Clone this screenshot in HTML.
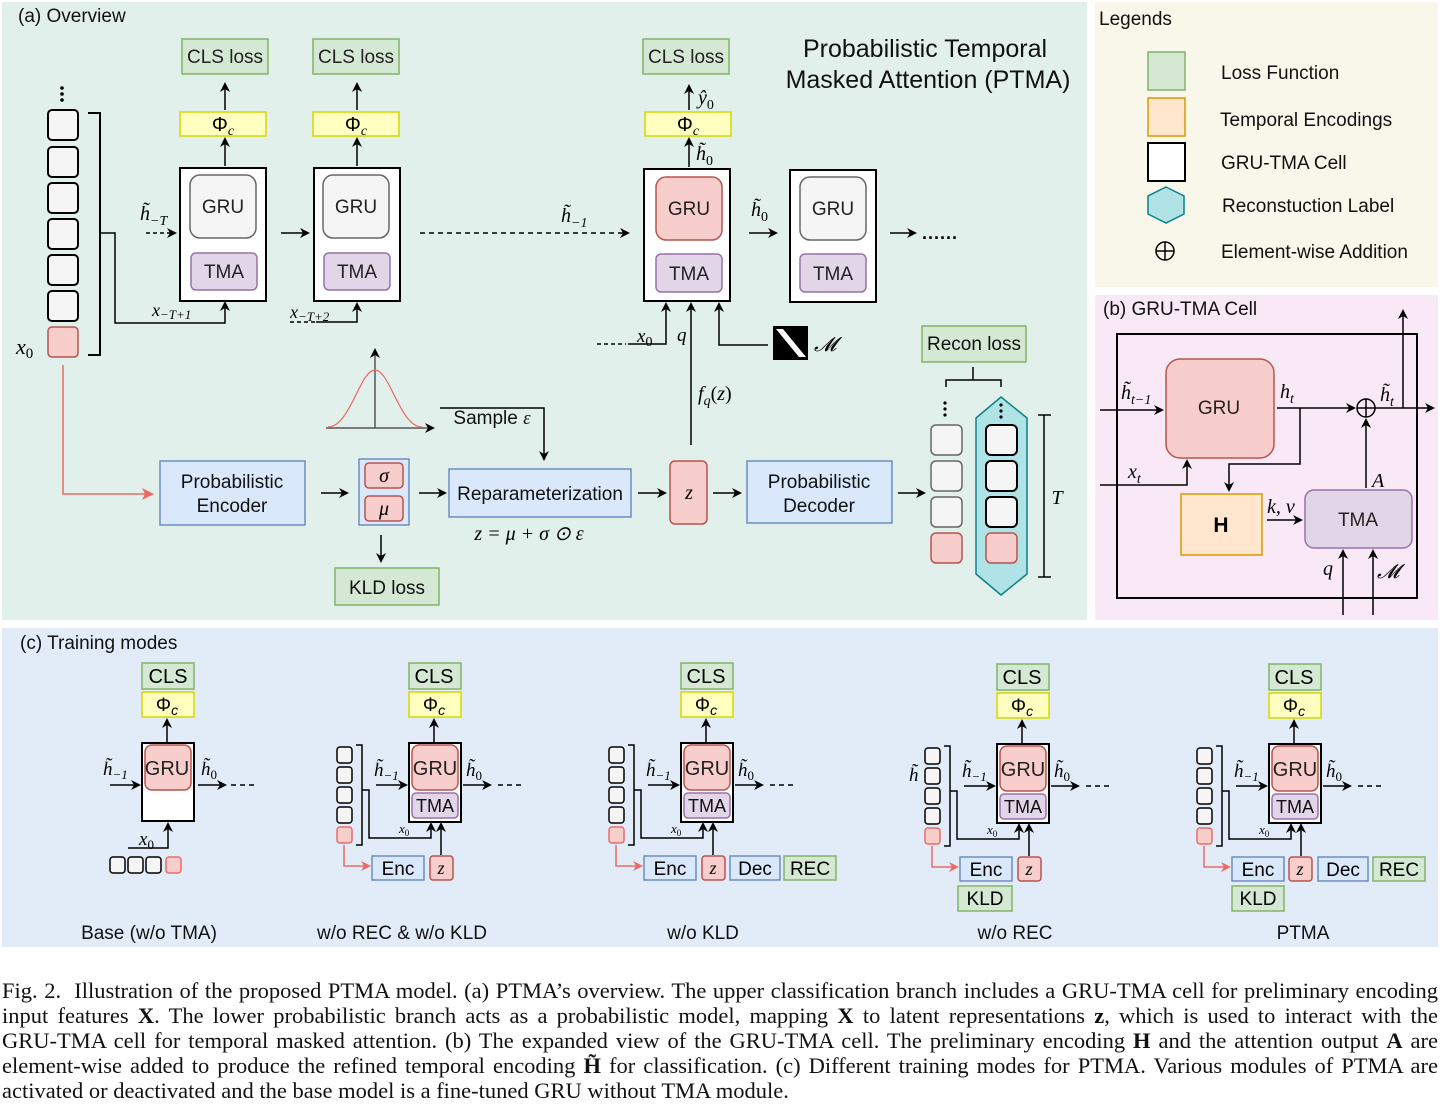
<!DOCTYPE html>
<html><head><meta charset="utf-8"><style>
body{margin:0;width:1440px;height:1106px;background:#fff;overflow:hidden;position:relative}
svg{position:absolute;left:0;top:0}
svg text{font-family:"Liberation Sans",sans-serif}
.m{font-family:"Liberation Serif",serif;font-style:italic}
.cap{position:absolute;left:2px;width:1436px;font-family:"Liberation Serif",serif;font-size:22.5px;line-height:25px;text-align:justify;text-align-last:justify;white-space:nowrap;color:#111}
.cap.l{text-align-last:left}
</style></head><body>
<svg width="1440" height="1106" viewBox="0 0 1440 1106">
<defs>
<marker id="b" markerWidth="10" markerHeight="10" refX="8" refY="5" orient="auto" markerUnits="userSpaceOnUse"><path d="M0,0 L10,5 L0,10 L3,5z" fill="#000"/></marker>
<marker id="p" markerWidth="12" markerHeight="12" refX="10" refY="6" orient="auto" markerUnits="userSpaceOnUse"><path d="M0,0 L12,6 L0,12 L3,6z" fill="#ea6b66"/></marker>
</defs>
<rect x="2" y="2" width="1085" height="618" fill="#e2f0ec"/>
<rect x="1095" y="2" width="343" height="285" fill="#f8f7ea"/>
<rect x="1095" y="295" width="343" height="325" fill="#f9e9f7"/>
<rect x="2" y="628" width="1436" height="319" fill="#e1ecf8"/>

<g font-size="19" fill="#111">
<text x="18" y="22">(a) Overview</text>
<text x="1099" y="25">Legends</text>
<text x="1103" y="315">(b) GRU-TMA Cell</text>
<text x="20" y="649">(c) Training modes</text>
</g>

<g stroke="#000" stroke-width="2" fill="none">
<rect x="48" y="110" width="30" height="30" rx="4" fill="#f5f5f5"/>
<rect x="48" y="147" width="30" height="30" rx="4" fill="#f5f5f5"/>
<rect x="48" y="183" width="30" height="30" rx="4" fill="#f5f5f5"/>
<rect x="48" y="219" width="30" height="30" rx="4" fill="#f5f5f5"/>
<rect x="48" y="255" width="30" height="30" rx="4" fill="#f5f5f5"/>
<rect x="48" y="291" width="30" height="30" rx="4" fill="#f5f5f5"/>
<rect x="48" y="327" width="30" height="30" rx="4" fill="#f8cecc" stroke="#b85450" stroke-width="1.5"/>
<path d="M88,113 H100 V355 H88"/>
</g>
<g fill="#000"><circle cx="62" cy="88" r="1.8"/><circle cx="62" cy="94" r="1.8"/><circle cx="62" cy="100" r="1.8"/></g>
<text x="16" y="354" class="m" font-size="22">x<tspan font-size="15" font-style="normal" dy="4">0</tspan></text>
<path d="M100,233 H115 V323 H225 V303" stroke="#000" stroke-width="1.5" fill="none" marker-end="url(#b)"/>
<path d="M63,365 V494 H152" stroke="#ea6b66" stroke-width="1.5" fill="none" marker-end="url(#p)"/>

<g stroke-width="1.5">
<rect x="182" y="39" width="86" height="35" fill="#d5e8d4" stroke="#82b366"/>
<rect x="180" y="112" width="86" height="24" fill="#ffffc0" stroke="#d6d600"/>
<rect x="180" y="168" width="86" height="133" fill="#fff" stroke="#000" stroke-width="2"/>
<rect x="190" y="175" width="66" height="63" rx="10" fill="#f5f5f5" stroke="#666"/>
<rect x="191" y="253" width="66" height="37" rx="5" fill="#e1d5e7" stroke="#9673a6"/>
<rect x="313" y="39" width="86" height="35" fill="#d5e8d4" stroke="#82b366"/>
<rect x="313" y="112" width="86" height="24" fill="#ffffc0" stroke="#d6d600"/>
<rect x="314" y="168" width="86" height="133" fill="#fff" stroke="#000" stroke-width="2"/>
<rect x="323" y="175" width="66" height="63" rx="10" fill="#f5f5f5" stroke="#666"/>
<rect x="324" y="253" width="66" height="37" rx="5" fill="#e1d5e7" stroke="#9673a6"/>
<rect x="643" y="39" width="86" height="35" fill="#d5e8d4" stroke="#82b366"/>
<rect x="645" y="112" width="86" height="24" fill="#ffffc0" stroke="#d6d600"/>
<rect x="644" y="169" width="86" height="132" fill="#fff" stroke="#000" stroke-width="2"/>
<rect x="656" y="177" width="66" height="63" rx="10" fill="#f8cecc" stroke="#b85450"/>
<rect x="656" y="254" width="66" height="38" rx="5" fill="#e1d5e7" stroke="#9673a6"/>
<rect x="790" y="170" width="86" height="132" fill="#fff" stroke="#000" stroke-width="2"/>
<rect x="800" y="177" width="66" height="63" rx="10" fill="#f5f5f5" stroke="#666"/>
<rect x="800" y="254" width="66" height="38" rx="5" fill="#e1d5e7" stroke="#9673a6"/>
</g>
<g font-size="19" fill="#222" text-anchor="middle">
<text x="225" y="63">CLS loss</text><text x="356" y="63">CLS loss</text><text x="686" y="63">CLS loss</text>
<text x="223" y="213">GRU</text><text x="356" y="213">GRU</text><text x="689" y="215">GRU</text><text x="833" y="215">GRU</text>
<text x="224" y="278">TMA</text><text x="357" y="278">TMA</text><text x="689" y="280">TMA</text><text x="833" y="280">TMA</text>
</g>
<g font-size="20" text-anchor="middle">
<text x="223" y="131" font-family="Liberation Serif">Φ<tspan class="m" font-size="14" dy="4">c</tspan></text>
<text x="356" y="131" font-family="Liberation Serif">Φ<tspan class="m" font-size="14" dy="4">c</tspan></text>
<text x="688" y="131" font-family="Liberation Serif">Φ<tspan class="m" font-size="14" dy="4">c</tspan></text>
</g>
<g stroke="#000" stroke-width="1.5" fill="none">
<line x1="225" y1="166" x2="225" y2="139" marker-end="url(#b)"/><line x1="225" y1="110" x2="225" y2="84" marker-end="url(#b)"/>
<line x1="357" y1="166" x2="357" y2="139" marker-end="url(#b)"/><line x1="357" y1="110" x2="357" y2="84" marker-end="url(#b)"/>
<line x1="689" y1="167" x2="689" y2="139" marker-end="url(#b)"/><line x1="689" y1="110" x2="689" y2="86" marker-end="url(#b)"/>
<line x1="146" y1="233" x2="175" y2="233" stroke-dasharray="4,3" marker-end="url(#b)"/>
<line x1="281" y1="233" x2="308" y2="233" marker-end="url(#b)"/>
<line x1="420" y1="233" x2="628" y2="233" stroke-dasharray="5,4" marker-end="url(#b)"/>
<line x1="749" y1="233" x2="776" y2="233" marker-end="url(#b)"/>
<line x1="890" y1="233" x2="915" y2="233" marker-end="url(#b)"/>
<line x1="290" y1="322" x2="316" y2="322" stroke-dasharray="4,3"/>
<path d="M316,322 H357 V304" marker-end="url(#b)"/>
<line x1="597" y1="344" x2="626" y2="344" stroke-dasharray="4,3"/>
<path d="M628,344 H666 V304" marker-end="url(#b)"/>
<line x1="691" y1="445" x2="691" y2="304" marker-end="url(#b)"/>
<path d="M768,345 H719 V304" marker-end="url(#b)"/>
</g>
<text x="922" y="239" font-size="18" font-weight="bold" letter-spacing="1">......</text>
<rect x="773" y="326" width="35" height="34" fill="#000"/>
<path d="M776,329 L783,329 L806,357 L799,357 Z" fill="#fff"/>
<g font-size="20">
<text x="814" y="351" class="m">𝓜</text>
<text x="140" y="220" class="m">h̃<tspan font-size="14" dy="5">−T</tspan></text>
<text x="152" y="316" class="m" font-size="18">x<tspan font-size="13" dy="3">−T+1</tspan></text>
<text x="290" y="318" class="m" font-size="18">x<tspan font-size="13" dy="3">−T+2</tspan></text>
<text x="561" y="222" class="m">h̃<tspan font-size="14" dy="5">−1</tspan></text>
<text x="751" y="216" class="m">h̃<tspan font-size="14" font-style="normal" dy="5">0</tspan></text>
<text x="696" y="160" class="m">h̃<tspan font-size="14" font-style="normal" dy="5">0</tspan></text>
<text x="698" y="104" class="m">ŷ<tspan font-size="14" font-style="normal" dy="5">0</tspan></text>
<text x="637" y="342" class="m" font-size="19">x<tspan font-size="14" font-style="normal" dy="4">0</tspan></text>
<text x="677" y="341" class="m" font-size="19">q</text>
<text x="698" y="400" class="m" font-size="20">f<tspan font-size="14" dy="5">q</tspan><tspan dy="-5" font-style="normal">(</tspan>z<tspan font-style="normal">)</tspan></text>
</g>
<g font-size="25" fill="#111" text-anchor="middle">
<text x="925" y="57">Probabilistic Temporal</text>
<text x="928" y="88">Masked Attention (PTMA)</text>
</g>

<g stroke-width="1.5">
<rect x="160" y="461" width="145" height="64" fill="#dae8fc" stroke="#6c8ebf"/>
<rect x="359" y="459" width="50" height="66" fill="#dae8fc" stroke="#6c8ebf"/>
<rect x="365" y="463" width="38" height="25" rx="4" fill="#f8cecc" stroke="#b85450"/>
<rect x="365" y="496" width="38" height="25" rx="4" fill="#f8cecc" stroke="#b85450"/>
<rect x="335" y="568" width="104" height="37" fill="#d5e8d4" stroke="#82b366"/>
<rect x="449" y="469" width="182" height="48" fill="#dae8fc" stroke="#6c8ebf"/>
<rect x="670" y="461" width="37" height="63" rx="5" fill="#f8cecc" stroke="#b85450"/>
<rect x="747" y="461" width="145" height="62" fill="#dae8fc" stroke="#6c8ebf"/>
<rect x="922" y="326" width="104" height="36" fill="#d5e8d4" stroke="#82b366"/>
<rect x="931" y="425" width="31" height="30" rx="5" fill="#f5f5f5" stroke="#666"/>
<rect x="931" y="461" width="31" height="30" rx="5" fill="#f5f5f5" stroke="#666"/>
<rect x="931" y="497" width="31" height="30" rx="5" fill="#f5f5f5" stroke="#666"/>
<rect x="931" y="533" width="31" height="30" rx="5" fill="#f8cecc" stroke="#b85450"/>
<path d="M1001,397 L1027,418 L1027,574 L1001,595 L976,574 L976,418 Z" fill="#b0e3e6" stroke="#0e8088"/>
<rect x="986" y="425" width="31" height="30" rx="5" fill="#f5f5f5" stroke="#000" stroke-width="2"/>
<rect x="986" y="461" width="31" height="30" rx="5" fill="#f5f5f5" stroke="#000" stroke-width="2"/>
<rect x="986" y="497" width="31" height="30" rx="5" fill="#f5f5f5" stroke="#000" stroke-width="2"/>
<rect x="986" y="533" width="31" height="30" rx="5" fill="#f8cecc" stroke="#b85450"/>
</g>
<g fill="#000"><circle cx="945" cy="403" r="1.6"/><circle cx="945" cy="409" r="1.6"/><circle cx="945" cy="415" r="1.6"/>
<circle cx="1001" cy="405" r="1.6"/><circle cx="1001" cy="411" r="1.6"/><circle cx="1001" cy="417" r="1.6"/></g>
<g stroke="#000" stroke-width="1.5" fill="none">
<line x1="321" y1="493" x2="347" y2="493" marker-end="url(#b)"/>
<line x1="381" y1="535" x2="381" y2="561" marker-end="url(#b)"/>
<line x1="419" y1="493" x2="445" y2="493" marker-end="url(#b)"/>
<line x1="638" y1="493" x2="665" y2="493" marker-end="url(#b)"/>
<line x1="713" y1="493" x2="740" y2="493" marker-end="url(#b)"/>
<line x1="898" y1="493" x2="924" y2="493" marker-end="url(#b)"/>
<path d="M440,408 H544 V459" marker-end="url(#b)"/>
<path d="M946,387 V380 H1001 V387 M973,380 V367"/>
<path d="M1044,415 V577 M1038,415 H1051 M1038,577 H1051"/>
<line x1="326" y1="428" x2="433" y2="428" stroke="#555" marker-end="url(#b)"/>
<line x1="375" y1="428" x2="375" y2="350" stroke="#555" marker-end="url(#b)"/>
</g>
<path d="M328,427 C350,427 360,370 375,370 C390,370 400,427 422,427" stroke="#ea6b66" stroke-width="1.2" fill="none"/>
<g font-size="19" fill="#111" text-anchor="middle">
<text x="232" y="488">Probabilistic</text><text x="232" y="512">Encoder</text>
<text x="387" y="594">KLD loss</text>
<text x="540" y="500">Reparameterization</text>
<text x="819" y="488">Probabilistic</text><text x="819" y="512">Decoder</text>
<text x="974" y="350">Recon loss</text>
<text x="492" y="424">Sample <tspan class="m">ε</tspan></text>
</g>
<g font-size="20" text-anchor="middle">
<text x="384" y="482" class="m">σ</text><text x="384" y="515" class="m">μ</text>
<text x="689" y="499" class="m">z</text>
<text x="529" y="540" class="m">z = μ + σ ⊙ ε</text>
<text x="1057" y="504" class="m">T</text>
</g>

<g stroke-width="1.5">
<rect x="1148" y="52" width="37" height="38" fill="#d5e8d4" stroke="#82b366"/>
<rect x="1148" y="98" width="37" height="38" fill="#ffe6cc" stroke="#d79b00"/>
<rect x="1148" y="143" width="37" height="38" fill="#fff" stroke="#000" stroke-width="2"/>
<path d="M1166,187 L1184,196 L1184,214 L1166,223 L1148,214 L1148,196 Z" fill="#b0e3e6" stroke="#0e8088"/>
<circle cx="1165" cy="251" r="9" fill="none" stroke="#000"/>
<path d="M1156,251 H1174 M1165,242 V260" stroke="#000"/>
</g>
<g font-size="19" fill="#111">
<text x="1221" y="79">Loss Function</text><text x="1220" y="126">Temporal Encodings</text>
<text x="1221" y="169">GRU-TMA Cell</text><text x="1222" y="212">Reconstuction Label</text>
<text x="1221" y="258">Element-wise Addition</text>
</g>

<rect x="1117" y="334" width="300" height="264" stroke="#000" stroke-width="2" fill="none"/>
<g stroke-width="1.5">
<rect x="1166" y="359" width="108" height="99" rx="14" fill="#f8cecc" stroke="#b85450"/>
<rect x="1181" y="494" width="81" height="61" fill="#ffe6cc" stroke="#d79b00"/>
<rect x="1305" y="490" width="107" height="58" rx="9" fill="#e1d5e7" stroke="#9673a6"/>
<circle cx="1366" cy="408" r="9" fill="none" stroke="#000"/>
<path d="M1357,408 H1375 M1366,399 V417" stroke="#000"/>
</g>
<g stroke="#000" stroke-width="1.5" fill="none">
<line x1="1100" y1="410" x2="1162" y2="410" marker-end="url(#b)"/>
<path d="M1100,485 H1187 V461" marker-end="url(#b)"/>
<line x1="1277" y1="408" x2="1354" y2="408" marker-end="url(#b)"/>
<path d="M1300,408 V464 H1229 V490" marker-end="url(#b)"/>
<line x1="1267" y1="520" x2="1301" y2="520" marker-end="url(#b)"/>
<line x1="1366" y1="488" x2="1366" y2="420" marker-end="url(#b)"/>
<line x1="1375" y1="408" x2="1433" y2="408" marker-end="url(#b)"/>
<line x1="1403" y1="408" x2="1403" y2="311" marker-end="url(#b)"/>
<line x1="1343" y1="615" x2="1343" y2="551" marker-end="url(#b)"/>
<line x1="1373" y1="615" x2="1373" y2="551" marker-end="url(#b)"/>
</g>
<text x="1219" y="414" font-size="19" text-anchor="middle" fill="#222">GRU</text>
<text x="1358" y="526" font-size="19" text-anchor="middle" fill="#222">TMA</text>
<text x="1221" y="532" font-family="Liberation Serif" font-weight="bold" font-size="21" text-anchor="middle">H</text>
<g font-size="20">
<text x="1121" y="399" class="m">h̃<tspan font-size="14" dy="5">t−1</tspan></text>
<text x="1128" y="478" class="m">x<tspan font-size="14" dy="5">t</tspan></text>
<text x="1280" y="398" class="m">h<tspan font-size="14" dy="5">t</tspan></text>
<text x="1380" y="401" class="m">h̃<tspan font-size="14" dy="5">t</tspan></text>
<text x="1267" y="513" class="m">k, v</text>
<text x="1372" y="487" class="m">A</text>
<text x="1323" y="575" class="m">q</text>
<text x="1377" y="578" class="m">𝓜</text>
</g>
</svg>

<svg width="1440" height="1106" viewBox="0 0 1440 1106">
<defs>
<marker id="c" markerWidth="10" markerHeight="10" refX="8" refY="5" orient="auto" markerUnits="userSpaceOnUse"><path d="M0,0 L10,5 L0,10 L3,5z" fill="#000"/></marker>
<marker id="d" markerWidth="10" markerHeight="10" refX="8" refY="5" orient="auto" markerUnits="userSpaceOnUse"><path d="M0,0 L10,5 L0,10 L3,5z" fill="#ea6b66"/></marker>
</defs>
<g>
<rect x="142" y="663" width="52" height="26" fill="#d5e8d4" stroke="#82b366" stroke-width="1.5"/>
<rect x="142" y="692" width="52" height="25" fill="#ffffc0" stroke="#d6d600" stroke-width="1.5"/>
<rect x="142" y="743" width="52" height="78" fill="#fff" stroke="#000" stroke-width="2"/>
<rect x="145" y="745" width="46" height="45" rx="7" fill="#f8cecc" stroke="#b85450" stroke-width="1.5"/>
<text x="168" y="683" font-size="20" text-anchor="middle">CLS</text>
<text x="167" y="711" font-family="Liberation Serif" font-size="19" text-anchor="middle">Φ<tspan font-style="italic" font-size="14" dy="4">c</tspan></text>
<text x="167" y="775" font-size="20" text-anchor="middle" fill="#222">GRU</text>
<g stroke="#000" stroke-width="1.5" fill="none">
<line x1="167" y1="742" x2="167" y2="720" marker-end="url(#c)"/>
<line x1="110" y1="785" x2="139" y2="785" marker-end="url(#c)"/>
<line x1="198" y1="785" x2="225" y2="785" marker-end="url(#c)"/>
<line x1="231" y1="785" x2="254" y2="785" stroke-dasharray="5,4"/>
<path d="M128,848 H168 V824" marker-end="url(#c)"/>
<rect x="110" y="857" width="15" height="16" rx="3" fill="#f5f5f5"/>
<rect x="128" y="857" width="15" height="16" rx="3" fill="#f5f5f5"/>
<rect x="146" y="857" width="15" height="16" rx="3" fill="#f5f5f5"/>
<rect x="166" y="857" width="15" height="16" rx="3" fill="#f8cecc" stroke="#ea6b66"/>
</g>
<g font-size="19">
<text x="103" y="775" class="m">h̃<tspan font-size="13" dy="4">−1</tspan></text>
<text x="201" y="775" class="m">h̃<tspan font-size="13" font-style="normal" dy="4">0</tspan></text>
<text x="139" y="845" class="m">x<tspan font-size="13" font-style="normal" dy="4">0</tspan></text>
</g>
</g>

<g>
<rect x="409" y="663" width="52" height="26" fill="#d5e8d4" stroke="#82b366" stroke-width="1.5"/>
<rect x="409" y="692" width="52" height="25" fill="#ffffc0" stroke="#d6d600" stroke-width="1.5"/>
<rect x="409" y="743" width="52" height="79" fill="#fff" stroke="#000" stroke-width="2"/>
<rect x="412" y="745" width="46" height="45" rx="7" fill="#f8cecc" stroke="#b85450" stroke-width="1.5"/>
<rect x="412" y="793" width="46" height="25" rx="4" fill="#e1d5e7" stroke="#9673a6" stroke-width="1.5"/>
<rect x="372" y="856" width="52" height="24" fill="#dae8fc" stroke="#6c8ebf" stroke-width="1.5"/>
<rect x="430" y="856" width="23" height="24" rx="3" fill="#f8cecc" stroke="#b85450" stroke-width="1.5"/>
<g stroke="#000" stroke-width="1.5" fill="none">
<rect x="337" y="747" width="15" height="16" rx="3" fill="#f5f5f5"/>
<rect x="337" y="767" width="15" height="16" rx="3" fill="#f5f5f5"/>
<rect x="337" y="787" width="15" height="16" rx="3" fill="#f5f5f5"/>
<rect x="337" y="807" width="15" height="16" rx="3" fill="#f5f5f5"/>
<rect x="337" y="827" width="15" height="16" rx="3" fill="#f8cecc" stroke="#ea6b66"/>
<path d="M356,745 H362 V845 H356"/>
<path d="M362,790 H369 V838 H431 V824" marker-end="url(#c)"/>
<line x1="441" y1="855" x2="441" y2="824" marker-end="url(#c)"/>
<line x1="434" y1="742" x2="434" y2="720" marker-end="url(#c)"/>
<line x1="376" y1="785" x2="406" y2="785" marker-end="url(#c)"/>
<line x1="463" y1="785" x2="490" y2="785" marker-end="url(#c)"/>
<line x1="498" y1="785" x2="522" y2="785" stroke-dasharray="5,4"/>
<path d="M344,845 V866 H369" stroke="#ea6b66" marker-end="url(#d)"/>
</g>
<text x="434" y="683" font-size="20" text-anchor="middle">CLS</text>
<text x="434" y="711" font-family="Liberation Serif" font-size="19" text-anchor="middle">Φ<tspan font-style="italic" font-size="14" dy="4">c</tspan></text>
<text x="435" y="775" font-size="20" text-anchor="middle" fill="#222">GRU</text>
<text x="435" y="812" font-size="18" text-anchor="middle" fill="#111">TMA</text>
<text x="398" y="875" font-size="19" text-anchor="middle">Enc</text>
<text x="441" y="874" font-size="18" text-anchor="middle" class="m">z</text>
<text x="374" y="776" font-size="19" class="m">h̃<tspan font-size="13" dy="4">−1</tspan></text>
<text x="466" y="776" font-size="19" class="m">h̃<tspan font-size="13" font-style="normal" dy="4">0</tspan></text>
<text x="399" y="833" font-size="13" class="m">x<tspan font-size="9" font-style="normal" dy="3">0</tspan></text>
</g>

<g transform="translate(272,0)">
<rect x="409" y="663" width="52" height="26" fill="#d5e8d4" stroke="#82b366" stroke-width="1.5"/>
<rect x="409" y="692" width="52" height="25" fill="#ffffc0" stroke="#d6d600" stroke-width="1.5"/>
<rect x="409" y="743" width="52" height="79" fill="#fff" stroke="#000" stroke-width="2"/>
<rect x="412" y="745" width="46" height="45" rx="7" fill="#f8cecc" stroke="#b85450" stroke-width="1.5"/>
<rect x="412" y="793" width="46" height="25" rx="4" fill="#e1d5e7" stroke="#9673a6" stroke-width="1.5"/>
<rect x="372" y="856" width="52" height="24" fill="#dae8fc" stroke="#6c8ebf" stroke-width="1.5"/>
<rect x="430" y="856" width="23" height="24" rx="3" fill="#f8cecc" stroke="#b85450" stroke-width="1.5"/>
<rect x="458" y="856" width="50" height="24" fill="#dae8fc" stroke="#6c8ebf" stroke-width="1.5"/>
<rect x="512" y="856" width="52" height="24" fill="#d5e8d4" stroke="#82b366" stroke-width="1.5"/>
<g stroke="#000" stroke-width="1.5" fill="none">
<rect x="337" y="747" width="15" height="16" rx="3" fill="#f5f5f5"/>
<rect x="337" y="767" width="15" height="16" rx="3" fill="#f5f5f5"/>
<rect x="337" y="787" width="15" height="16" rx="3" fill="#f5f5f5"/>
<rect x="337" y="807" width="15" height="16" rx="3" fill="#f5f5f5"/>
<rect x="337" y="827" width="15" height="16" rx="3" fill="#f8cecc" stroke="#ea6b66"/>
<path d="M356,745 H362 V845 H356"/>
<path d="M362,790 H369 V838 H431 V824" marker-end="url(#c)"/>
<line x1="441" y1="855" x2="441" y2="824" marker-end="url(#c)"/>
<line x1="434" y1="742" x2="434" y2="720" marker-end="url(#c)"/>
<line x1="376" y1="785" x2="406" y2="785" marker-end="url(#c)"/>
<line x1="463" y1="785" x2="490" y2="785" marker-end="url(#c)"/>
<line x1="498" y1="785" x2="522" y2="785" stroke-dasharray="5,4"/>
<path d="M344,845 V866 H369" stroke="#ea6b66" marker-end="url(#d)"/>
</g>
<text x="434" y="683" font-size="20" text-anchor="middle">CLS</text>
<text x="434" y="711" font-family="Liberation Serif" font-size="19" text-anchor="middle">Φ<tspan font-style="italic" font-size="14" dy="4">c</tspan></text>
<text x="435" y="775" font-size="20" text-anchor="middle" fill="#222">GRU</text>
<text x="435" y="812" font-size="18" text-anchor="middle" fill="#111">TMA</text>
<text x="398" y="875" font-size="19" text-anchor="middle">Enc</text>
<text x="483" y="875" font-size="19" text-anchor="middle">Dec</text>
<text x="538" y="875" font-size="19" text-anchor="middle">REC</text>
<text x="441" y="874" font-size="18" text-anchor="middle" class="m">z</text>
<text x="374" y="776" font-size="19" class="m">h̃<tspan font-size="13" dy="4">−1</tspan></text>
<text x="466" y="776" font-size="19" class="m">h̃<tspan font-size="13" font-style="normal" dy="4">0</tspan></text>
<text x="399" y="833" font-size="13" class="m">x<tspan font-size="9" font-style="normal" dy="3">0</tspan></text>
</g>

<g transform="translate(588,1)">
<rect x="409" y="663" width="52" height="26" fill="#d5e8d4" stroke="#82b366" stroke-width="1.5"/>
<rect x="409" y="692" width="52" height="25" fill="#ffffc0" stroke="#d6d600" stroke-width="1.5"/>
<rect x="409" y="743" width="52" height="79" fill="#fff" stroke="#000" stroke-width="2"/>
<rect x="412" y="745" width="46" height="45" rx="7" fill="#f8cecc" stroke="#b85450" stroke-width="1.5"/>
<rect x="412" y="793" width="46" height="25" rx="4" fill="#e1d5e7" stroke="#9673a6" stroke-width="1.5"/>
<rect x="372" y="856" width="52" height="24" fill="#dae8fc" stroke="#6c8ebf" stroke-width="1.5"/>
<rect x="430" y="856" width="23" height="24" rx="3" fill="#f8cecc" stroke="#b85450" stroke-width="1.5"/>
<rect x="370" y="885" width="54" height="25" fill="#d5e8d4" stroke="#82b366" stroke-width="1.5"/>
<g stroke="#000" stroke-width="1.5" fill="none">
<rect x="337" y="747" width="15" height="16" rx="3" fill="#f5f5f5"/>
<rect x="337" y="767" width="15" height="16" rx="3" fill="#f5f5f5"/>
<rect x="337" y="787" width="15" height="16" rx="3" fill="#f5f5f5"/>
<rect x="337" y="807" width="15" height="16" rx="3" fill="#f5f5f5"/>
<rect x="337" y="827" width="15" height="16" rx="3" fill="#f8cecc" stroke="#ea6b66"/>
<path d="M356,745 H362 V845 H356"/>
<path d="M362,790 H369 V838 H431 V824" marker-end="url(#c)"/>
<line x1="441" y1="855" x2="441" y2="824" marker-end="url(#c)"/>
<line x1="434" y1="742" x2="434" y2="720" marker-end="url(#c)"/>
<line x1="376" y1="785" x2="406" y2="785" marker-end="url(#c)"/>
<line x1="463" y1="785" x2="490" y2="785" marker-end="url(#c)"/>
<line x1="498" y1="785" x2="522" y2="785" stroke-dasharray="5,4"/>
<path d="M344,845 V866 H369" stroke="#ea6b66" marker-end="url(#d)"/>
</g>
<text x="434" y="683" font-size="20" text-anchor="middle">CLS</text>
<text x="434" y="711" font-family="Liberation Serif" font-size="19" text-anchor="middle">Φ<tspan font-style="italic" font-size="14" dy="4">c</tspan></text>
<text x="435" y="775" font-size="20" text-anchor="middle" fill="#222">GRU</text>
<text x="435" y="812" font-size="18" text-anchor="middle" fill="#111">TMA</text>
<text x="398" y="875" font-size="19" text-anchor="middle">Enc</text>
<text x="397" y="904" font-size="19" text-anchor="middle">KLD</text>
<text x="441" y="874" font-size="18" text-anchor="middle" class="m">z</text>
<text x="321" y="780" font-size="19" class="m">h̃</text>
<text x="374" y="776" font-size="19" class="m">h̃<tspan font-size="13" dy="4">−1</tspan></text>
<text x="466" y="776" font-size="19" class="m">h̃<tspan font-size="13" font-style="normal" dy="4">0</tspan></text>
<text x="399" y="833" font-size="13" class="m">x<tspan font-size="9" font-style="normal" dy="3">0</tspan></text>
</g>

<g transform="translate(860,1)">
<rect x="409" y="663" width="52" height="26" fill="#d5e8d4" stroke="#82b366" stroke-width="1.5"/>
<rect x="409" y="692" width="52" height="25" fill="#ffffc0" stroke="#d6d600" stroke-width="1.5"/>
<rect x="409" y="743" width="52" height="79" fill="#fff" stroke="#000" stroke-width="2"/>
<rect x="412" y="745" width="46" height="45" rx="7" fill="#f8cecc" stroke="#b85450" stroke-width="1.5"/>
<rect x="412" y="793" width="46" height="25" rx="4" fill="#e1d5e7" stroke="#9673a6" stroke-width="1.5"/>
<rect x="372" y="856" width="52" height="24" fill="#dae8fc" stroke="#6c8ebf" stroke-width="1.5"/>
<rect x="429" y="856" width="23" height="24" rx="3" fill="#f8cecc" stroke="#b85450" stroke-width="1.5"/>
<rect x="458" y="856" width="50" height="24" fill="#dae8fc" stroke="#6c8ebf" stroke-width="1.5"/>
<rect x="513" y="856" width="52" height="24" fill="#d5e8d4" stroke="#82b366" stroke-width="1.5"/>
<rect x="372" y="885" width="52" height="25" fill="#d5e8d4" stroke="#82b366" stroke-width="1.5"/>
<g stroke="#000" stroke-width="1.5" fill="none">
<rect x="337" y="747" width="15" height="16" rx="3" fill="#f5f5f5"/>
<rect x="337" y="767" width="15" height="16" rx="3" fill="#f5f5f5"/>
<rect x="337" y="787" width="15" height="16" rx="3" fill="#f5f5f5"/>
<rect x="337" y="807" width="15" height="16" rx="3" fill="#f5f5f5"/>
<rect x="337" y="827" width="15" height="16" rx="3" fill="#f8cecc" stroke="#ea6b66"/>
<path d="M356,745 H362 V845 H356"/>
<path d="M362,790 H369 V838 H431 V824" marker-end="url(#c)"/>
<line x1="441" y1="855" x2="441" y2="824" marker-end="url(#c)"/>
<line x1="434" y1="742" x2="434" y2="720" marker-end="url(#c)"/>
<line x1="376" y1="785" x2="406" y2="785" marker-end="url(#c)"/>
<line x1="463" y1="785" x2="490" y2="785" marker-end="url(#c)"/>
<line x1="498" y1="785" x2="522" y2="785" stroke-dasharray="5,4"/>
<path d="M344,845 V866 H369" stroke="#ea6b66" marker-end="url(#d)"/>
</g>
<text x="434" y="683" font-size="20" text-anchor="middle">CLS</text>
<text x="434" y="711" font-family="Liberation Serif" font-size="19" text-anchor="middle">Φ<tspan font-style="italic" font-size="14" dy="4">c</tspan></text>
<text x="435" y="775" font-size="20" text-anchor="middle" fill="#222">GRU</text>
<text x="435" y="812" font-size="18" text-anchor="middle" fill="#111">TMA</text>
<text x="398" y="875" font-size="19" text-anchor="middle">Enc</text>
<text x="483" y="875" font-size="19" text-anchor="middle">Dec</text>
<text x="539" y="875" font-size="19" text-anchor="middle">REC</text>
<text x="398" y="904" font-size="19" text-anchor="middle">KLD</text>
<text x="440" y="874" font-size="18" text-anchor="middle" class="m">z</text>
<text x="374" y="776" font-size="19" class="m">h̃<tspan font-size="13" dy="4">−1</tspan></text>
<text x="466" y="776" font-size="19" class="m">h̃<tspan font-size="13" font-style="normal" dy="4">0</tspan></text>
<text x="399" y="833" font-size="13" class="m">x<tspan font-size="9" font-style="normal" dy="3">0</tspan></text>
</g>

<g font-size="19" fill="#111" text-anchor="middle">
<text x="149" y="939">Base (w/o TMA)</text>
<text x="402" y="939">w/o REC &amp; w/o KLD</text>
<text x="703" y="939">w/o KLD</text>
<text x="1015" y="939">w/o REC</text>
<text x="1303" y="939">PTMA</text>
</g>
</svg>

<div class="cap" style="top:978px">Fig. 2.&nbsp; Illustration of the proposed PTMA model. (a) PTMA’s overview. The upper classification branch includes a GRU-TMA cell for preliminary encoding</div>
<div class="cap" style="top:1003px">input features <b>X</b>. The lower probabilistic branch acts as a probabilistic model, mapping <b>X</b> to latent representations <b>z</b>, which is used to interact with the</div>
<div class="cap" style="top:1028px">GRU-TMA cell for temporal masked attention. (b) The expanded view of the GRU-TMA cell. The preliminary encoding <b>H</b> and the attention output <b>A</b> are</div>
<div class="cap" style="top:1053px">element-wise added to produce the refined temporal encoding <b>H̃</b> for classification. (c) Different training modes for PTMA. Various modules of PTMA are</div>
<div class="cap l" style="top:1078px">activated or deactivated and the base model is a fine-tuned GRU without TMA module.</div>
</body></html>
